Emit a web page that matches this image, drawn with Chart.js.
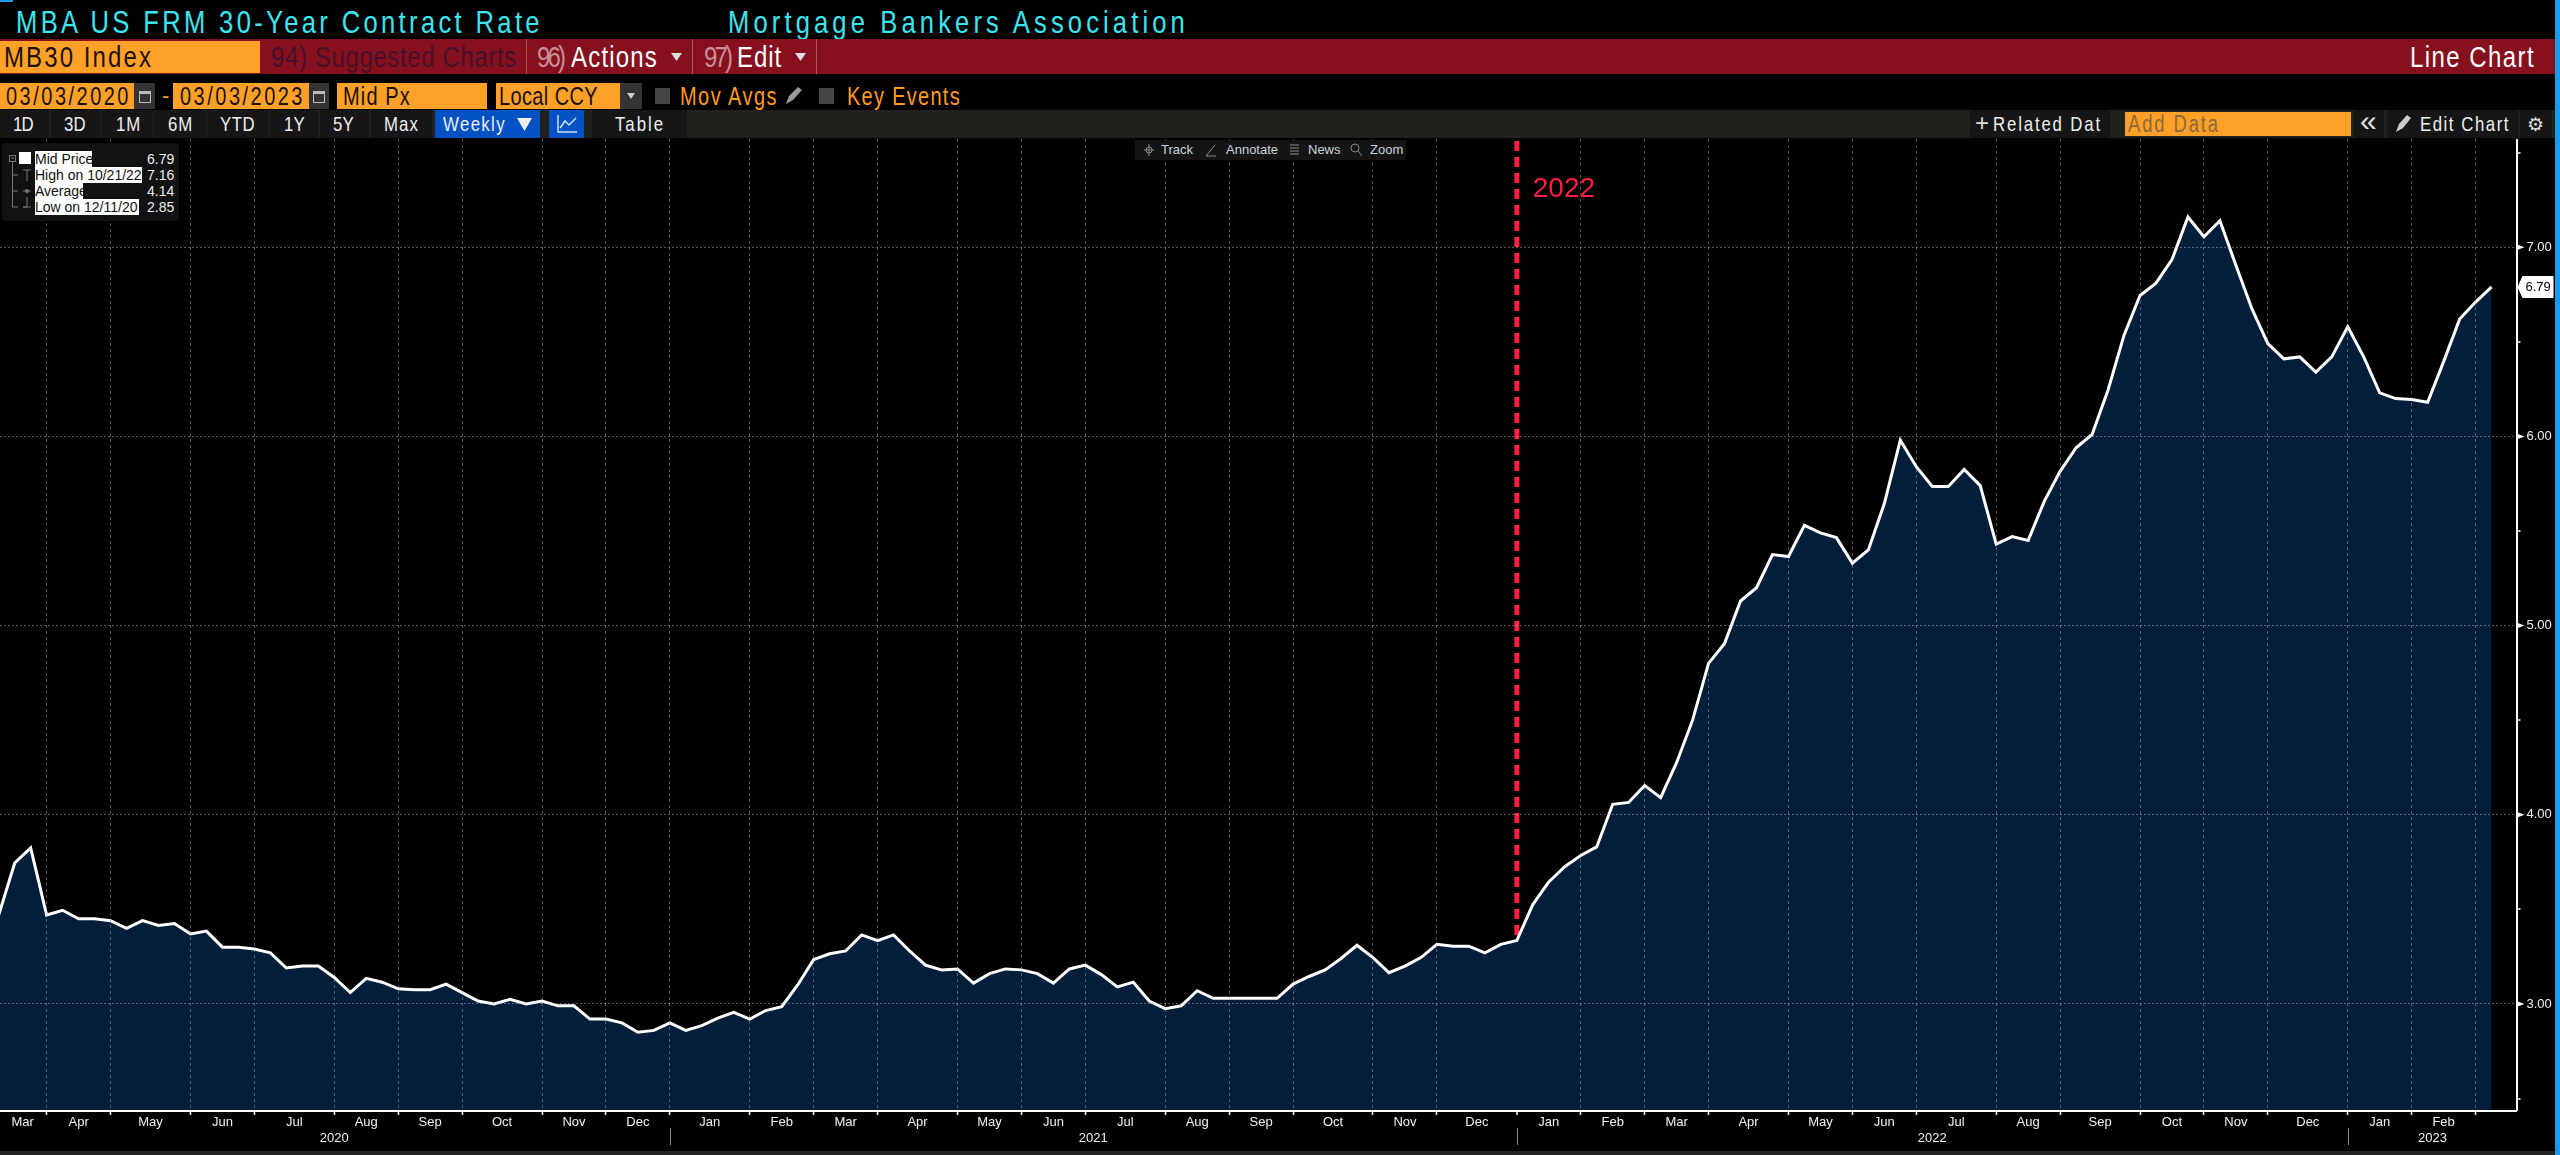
<!DOCTYPE html>
<html>
<head>
<meta charset="utf-8">
<title>MB30 Index</title>
<script src="https://cdn.jsdelivr.net/npm/chart.js@4"></script>
<style>
html, body { margin: 0; padding: 0; background: #000; }
body { width: 2560px; height: 1155px; position: relative; overflow: hidden; font-family: "Liberation Sans", Arial, sans-serif; }
.box { position: absolute; }
.t { position: absolute; white-space: nowrap; transform-origin: left center; }
.org { background: #ffa028; }
.btn { position: absolute; top: 110px; height: 28px; background: #161616; }
.chk { position: absolute; top: 88px; width: 15px; height: 16px; background: #444; }
.cal { position: absolute; top: 83px; height: 26px; background: #333; }
.w { position: absolute; top: 140px; height: 20px; background: #141414; z-index: 2; }
#wrap { position: absolute; left: 0; top: 139px; width: 2555px; height: 1012px; }
#legend { position: absolute; left: 2px; top: 143px; width: 177px; height: 78px; background: #111; border-radius: 3px; z-index: 2; }
</style>
</head>
<body>

<!-- title row -->
<div class="box" style="left:0;top:0;width:13px;height:2px;background:#1a9be8"></div>
<span class="t" data-w="527" style="left:16px;top:5px;line-height:34px;font-size:32px;color:#3ce6f0">MBA US FRM 30-Year Contract Rate</span>
<span class="t" data-w="461" style="left:728px;top:5px;line-height:34px;font-size:32px;color:#3ce6f0">Mortgage Bankers Association</span>

<!-- red bar -->
<div class="box" style="left:0;top:39px;width:2555px;height:35px;background:#87101e"></div>
<div class="box org" style="left:0;top:41px;width:260px;height:32px"></div>
<div class="box" style="left:526px;top:39px;width:1px;height:35px;background:#a8505c"></div>
<div class="box" style="left:692px;top:39px;width:1px;height:35px;background:#a8505c"></div>
<div class="box" style="left:816px;top:39px;width:1px;height:35px;background:#a8505c"></div>
<span class="t" data-w="149" style="left:4px;top:41px;line-height:32px;font-size:30px;color:#1a1208">MB30 Index</span>
<span class="t" data-w="246" style="left:271px;top:41px;line-height:32px;font-size:30px;color:#47102a">94) Suggested Charts</span>
<span class="t" data-w="26" style="left:537px;top:41px;line-height:32px;font-size:30px;color:#c98f98">96)</span>
<span class="t" data-w="87" style="left:571px;top:41px;line-height:32px;font-size:30px;color:#fff">Actions</span>
<svg class="box" style="left:671px;top:53px" width="11" height="8"><path d="M0 0 H11 L5.5 8 Z" fill="#ddd"/></svg>
<span class="t" data-w="26" style="left:704px;top:41px;line-height:32px;font-size:30px;color:#c98f98">97)</span>
<span class="t" data-w="45" style="left:737px;top:41px;line-height:32px;font-size:30px;color:#fff">Edit</span>
<svg class="box" style="left:795px;top:53px" width="11" height="8"><path d="M0 0 H11 L5.5 8 Z" fill="#ddd"/></svg>
<span class="t" data-w="125" style="left:2410px;top:41px;line-height:32px;font-size:30px;color:#fff">Line Chart</span>

<!-- date row -->
<div class="box org" style="left:0;top:83px;width:134px;height:26px"></div>
<div class="cal" style="left:134px;width:21px"></div>
<svg class="box" style="left:139px;top:90px" width="12" height="13"><rect x="0.5" y="1.5" width="11" height="11" fill="none" stroke="#bbb"/><rect x="0" y="1" width="12" height="3" fill="#bbb"/></svg>
<span class="t" style="left:162px;top:83px;line-height:26px;font-size:22px;color:#ffa028">-</span>
<div class="box org" style="left:173px;top:83px;width:136px;height:26px"></div>
<div class="cal" style="left:309px;width:20px"></div>
<svg class="box" style="left:313px;top:90px" width="12" height="13"><rect x="0.5" y="1.5" width="11" height="11" fill="none" stroke="#bbb"/><rect x="0" y="1" width="12" height="3" fill="#bbb"/></svg>
<div class="box org" style="left:337px;top:83px;width:150px;height:26px"></div>
<div class="box org" style="left:496px;top:83px;width:124px;height:26px"></div>
<div class="cal" style="left:620px;width:22px"></div>
<svg class="box" style="left:627px;top:93px" width="8" height="6"><path d="M0 0 H8 L4 6 Z" fill="#ccc"/></svg>
<span class="t" data-w="125" style="left:6px;top:83px;line-height:26px;font-size:25px;color:#1a1208">03/03/2020</span>
<span class="t" data-w="125" style="left:180px;top:83px;line-height:26px;font-size:25px;color:#1a1208">03/03/2023</span>
<span class="t" data-w="68" style="left:343px;top:83px;line-height:26px;font-size:25px;color:#1a1208">Mid Px</span>
<span class="t" data-w="99" style="left:499px;top:83px;line-height:26px;font-size:25px;color:#1a1208">Local CCY</span>
<div class="chk" style="left:655px"></div>
<span class="t" data-w="98" style="left:680px;top:83px;line-height:26px;font-size:25px;color:#ff9a1e">Mov Avgs</span>
<svg class="box" style="left:784px;top:86px" width="20" height="20"><path d="M2 18 L5 10 L14 1 L18 4 L9 14 Z" fill="#999"/></svg>
<div class="chk" style="left:819px"></div>
<span class="t" data-w="114" style="left:847px;top:83px;line-height:26px;font-size:25px;color:#ff9a1e">Key Events</span>

<!-- toolbar -->
<div class="box" style="left:0;top:110px;width:2555px;height:28px;background:#23211d"></div>
<div class="btn" style="left:0;width:49px"></div>
<div class="btn" style="left:51px;width:49px"></div>
<div class="btn" style="left:101px;width:52px"></div>
<div class="btn" style="left:154px;width:52px"></div>
<div class="btn" style="left:207px;width:62px"></div>
<div class="btn" style="left:270px;width:48px"></div>
<div class="btn" style="left:320px;width:49px"></div>
<div class="btn" style="left:371px;width:61px"></div>
<div class="btn" style="left:435px;width:105px;background:#0352c4"></div>
<div class="btn" style="left:549px;width:35px;background:#0352c4"></div>
<div class="btn" style="left:592px;width:95px"></div>
<span class="t" data-w="20" style="left:13px;top:110px;line-height:28px;font-size:21px;color:#eee">1D</span>
<span class="t" data-w="22" style="left:64px;top:110px;line-height:28px;font-size:21px;color:#eee">3D</span>
<span class="t" data-w="25" style="left:116px;top:110px;line-height:28px;font-size:21px;color:#eee">1M</span>
<span class="t" data-w="25" style="left:168px;top:110px;line-height:28px;font-size:21px;color:#eee">6M</span>
<span class="t" data-w="35" style="left:220px;top:110px;line-height:28px;font-size:21px;color:#eee">YTD</span>
<span class="t" data-w="21" style="left:284px;top:110px;line-height:28px;font-size:21px;color:#eee">1Y</span>
<span class="t" data-w="21" style="left:333px;top:110px;line-height:28px;font-size:21px;color:#eee">5Y</span>
<span class="t" data-w="35" style="left:384px;top:110px;line-height:28px;font-size:21px;color:#eee">Max</span>
<span class="t" data-w="63" style="left:443px;top:110px;line-height:28px;font-size:21px;color:#eee">Weekly</span>
<svg class="box" style="left:517px;top:118px" width="15" height="13"><path d="M0 0 H15 L7.5 13 Z" fill="#eee"/></svg>
<svg class="box" style="left:556px;top:114px" width="22" height="20"><path d="M2 1 V18 H21" fill="none" stroke="#cfe0ff" stroke-width="1.5"/><path d="M4 14 L9 7 L13 11 L20 4" fill="none" stroke="#cfe0ff" stroke-width="1.5"/></svg>
<span class="t" data-w="50" style="left:615px;top:110px;line-height:28px;font-size:21px;color:#eee">Table</span>

<div class="btn" style="left:1970px;width:140px"></div>
<span class="t" style="left:1975px;top:109px;line-height:28px;font-size:24px;color:#ddd">+</span>
<span class="t" data-w="109" style="left:1993px;top:110px;line-height:28px;font-size:21px;color:#eee">Related Dat</span>
<div class="box org" style="left:2125px;top:112px;width:226px;height:24px"></div>
<span class="t" data-w="92" style="left:2128px;top:112px;line-height:24px;font-size:23px;color:#8a6a3a">Add Data</span>
<div class="btn" style="left:2354px;width:30px"></div>
<span class="t" style="left:2360px;top:108px;line-height:26px;font-size:30px;color:#ddd">«</span>
<div class="btn" style="left:2387px;width:131px"></div>
<svg class="box" style="left:2394px;top:114px" width="20" height="20"><path d="M2 18 L5 10 L13 1 L17 4 L9 14 Z" fill="#ccc"/></svg>
<span class="t" data-w="90" style="left:2420px;top:110px;line-height:28px;font-size:21px;color:#eee">Edit Chart</span>
<div class="btn" style="left:2520px;width:32px"></div>
<span class="t" style="left:2527px;top:110px;line-height:28px;font-size:19px;color:#ddd;font-family:'DejaVu Sans'">⚙</span>

<!-- blue edge and bottom strip -->
<div class="box" style="left:2555px;top:0;width:5px;height:1155px;background:#1a9be8"></div>
<div class="box" style="left:0;top:1151px;width:2555px;height:4px;background:#222"></div>

<!-- chart tools -->
<div class="w" style="left:1135px;width:271px"></div>
<svg class="box" style="left:1143px;top:143px;z-index:3" width="12" height="14"><path d="M6 1 V13 M1 7 H11" stroke="#888"/><circle cx="6" cy="7" r="3" fill="none" stroke="#888"/></svg>
<span class="t" style="left:1161px;top:140px;line-height:20px;font-size:13px;color:#c8d4da;z-index:3">Track</span>
<svg class="box" style="left:1205px;top:143px;z-index:3" width="12" height="14"><path d="M1 13 L10 2 M1 13 H11" stroke="#888"/></svg>
<span class="t" style="left:1226px;top:140px;line-height:20px;font-size:13px;color:#c8d4da;z-index:3">Annotate</span>
<svg class="box" style="left:1289px;top:143px;z-index:3" width="12" height="14"><path d="M1 2 H10 M1 5 H10 M1 8 H10 M1 11 H10" stroke="#888"/></svg>
<span class="t" style="left:1308px;top:140px;line-height:20px;font-size:13px;color:#c8d4da;z-index:3">News</span>
<svg class="box" style="left:1350px;top:143px;z-index:3" width="12" height="14"><circle cx="5" cy="5" r="4" fill="none" stroke="#888"/><path d="M8 8 L12 13" stroke="#888"/></svg>
<span class="t" style="left:1370px;top:140px;line-height:20px;font-size:13px;color:#c8d4da;z-index:3">Zoom</span>

<!-- stats legend -->
<div id="legend">
  <svg class="box" style="left:0;top:0" width="34" height="78"><rect x="7.5" y="12.5" width="6" height="6" fill="none" stroke="#777"/><path d="M9 15 H12 M10.5 19 V64 H16 M10.5 32 H16 M10.5 48 H16" stroke="#777" fill="none"/><path d="M21 27 H29 M25 27 V38 M21 48 H29 M25 64 H21 H29 M25 54 V64" stroke="#777" fill="none"/><circle cx="25" cy="48" r="2" fill="#777"/></svg>
  <div class="box" style="left:17px;top:9px;width:12px;height:12px;background:#fff"></div>
  <span class="t" style="left:33px;top:8px;height:16px;width:57px;background:#fff;color:#111;font-size:14px;line-height:16px">Mid Price</span>
  <span class="t" style="left:33px;top:24px;height:16px;width:107px;background:#fff;color:#111;font-size:14px;line-height:16px">High on 10/21/22</span>
  <span class="t" style="left:33px;top:40px;height:16px;width:48px;background:#fff;color:#111;font-size:14px;line-height:16px">Average</span>
  <span class="t" style="left:33px;top:56px;height:16px;width:104px;background:#fff;color:#111;font-size:14px;line-height:16px">Low on 12/11/20</span>
  <span class="t" style="left:145px;top:8px;color:#eee;font-size:14px;line-height:16px">6.79</span>
  <span class="t" style="left:145px;top:24px;color:#eee;font-size:14px;line-height:16px">7.16</span>
  <span class="t" style="left:145px;top:40px;color:#eee;font-size:14px;line-height:16px">4.14</span>
  <span class="t" style="left:145px;top:56px;color:#eee;font-size:14px;line-height:16px">2.85</span>
</div>

<div id="wrap"><canvas id="rateChart"></canvas></div>

<script>
// weekly mid price, MB30 Index, 03/06/2020 to 03/03/2023
const rate2020 = [3.47, 3.745, 3.825, 3.47, 3.495, 3.45, 3.45, 3.44, 3.40, 3.44, 3.415, 3.425, 3.37, 3.385, 3.30, 3.30,
    3.29, 3.27, 3.19, 3.20, 3.20, 3.14, 3.06, 3.135, 3.115, 3.08, 3.075, 3.075, 3.105, 3.06, 3.015, 3.00,
    3.025, 3.00, 3.015, 2.99, 2.99, 2.92, 2.92, 2.90, 2.85, 2.86, 2.90];
const rate2021 = [2.86, 2.885, 2.925, 2.955, 2.92, 2.965, 2.985, 3.10, 3.235, 3.265, 3.28, 3.365, 3.335, 3.365, 3.28, 3.205,
    3.18, 3.185, 3.11, 3.16, 3.185, 3.18, 3.16, 3.11, 3.185, 3.205, 3.155, 3.09, 3.115, 3.015, 2.975, 2.99,
    3.07, 3.03, 3.03, 3.03, 3.03, 3.03, 3.105, 3.145, 3.18, 3.24, 3.31, 3.245, 3.165, 3.20, 3.245, 3.315,
    3.305, 3.305, 3.27, 3.315, 3.335];
const rate2022 = [3.525, 3.645, 3.725, 3.785, 3.83, 4.055, 4.065, 4.155, 4.09, 4.275, 4.50, 4.80, 4.905, 5.13, 5.20, 5.375,
    5.365, 5.53, 5.49, 5.465, 5.33, 5.40, 5.645, 5.98, 5.84, 5.735, 5.735, 5.825, 5.74, 5.43, 5.47, 5.45,
    5.655, 5.815, 5.94, 6.01, 6.245, 6.535, 6.745, 6.81, 6.935, 7.16, 7.055, 7.14, 6.905, 6.675, 6.49, 6.41,
    6.42, 6.34, 6.42, 6.58];
const rate2023 = [6.42, 6.23, 6.20, 6.195, 6.18, 6.395, 6.62, 6.71, 6.79];
const midPrice = [...rate2020, ...rate2021, ...rate2022, ...rate2023];

// week number of each month end, first week is 0
const monthEdges = [3, 7, 12, 16, 21, 25, 29, 34, 38, 42, 47, 51, 55, 60, 64, 68, 73, 77, 81, 86, 90, 95, 99, 103, 107,
    112, 116, 120, 125, 129, 134, 138, 142, 147, 151, 155];
const monthNames = ['Mar', 'Apr', 'May', 'Jun', 'Jul', 'Aug', 'Sep', 'Oct', 'Nov', 'Dec', 'Jan', 'Feb',
    'Mar', 'Apr', 'May', 'Jun', 'Jul', 'Aug', 'Sep', 'Oct', 'Nov', 'Dec', 'Jan', 'Feb',
    'Mar', 'Apr', 'May', 'Jun', 'Jul', 'Aug', 'Sep', 'Oct', 'Nov', 'Dec', 'Jan', 'Feb'];
const yearNames = ['2020', '2021', '2022', '2023'];
const yearCenters = [21, 68.5, 121, 152.3];
const yearEdges = [42, 95, 147];
const yTicks = [2.5, 3, 3.5, 4, 4.5, 5, 5.5, 6, 6.5, 7, 7.5];
const eventWeek = 95;
const eventLabel = '2022';

const xMin = 0.081, xMax = 157.56;
const yMin = 2.434, yMax = 7.572;
const axisFamily = '"Liberation Sans", Arial, sans-serif';
const labelFont = { family: axisFamily, size: 13 };

function noPadding(scale) {
    scale.paddingTop = scale.paddingBottom = scale.paddingLeft = scale.paddingRight = 0;
}

const axisMarks = {
    id: 'axisMarks',
    afterDraw(chart) {
        const ctx = chart.ctx, x = chart.scales.x, y = chart.scales.y;
        const right = chart.chartArea.right, bottom = chart.chartArea.bottom;
        ctx.save();
        // little arrows at the whole numbers
        ctx.fillStyle = '#fff';
        yTicks.filter(v => Number.isInteger(v)).forEach(v => {
            const py = y.getPixelForValue(v);
            ctx.beginPath();
            ctx.moveTo(right, py - 3);
            ctx.lineTo(right + 8, py);
            ctx.lineTo(right, py + 3);
            ctx.fill();
        });
        // last price tag
        const last = midPrice[midPrice.length - 1];
        const ly = y.getPixelForValue(last);
        ctx.beginPath();
        ctx.moveTo(right + 1, ly);
        ctx.lineTo(right + 6, ly - 11);
        ctx.lineTo(right + 37, ly - 11);
        ctx.lineTo(right + 37, ly + 11);
        ctx.lineTo(right + 6, ly + 11);
        ctx.fill();
        ctx.fillStyle = '#000';
        ctx.font = '13px ' + axisFamily;
        ctx.textBaseline = 'middle';
        ctx.fillText(last.toFixed(2), right + 9, ly);
        // year separators under the axis
        ctx.strokeStyle = '#888';
        ctx.lineWidth = 1;
        yearEdges.forEach(w => {
            const px = Math.round(x.getPixelForValue(w)) + 0.5;
            ctx.beginPath();
            ctx.moveTo(px, bottom + 17);
            ctx.lineTo(px, bottom + 34);
            ctx.stroke();
        });
        // event label
        ctx.fillStyle = '#ff1f45';
        ctx.font = '28px ' + axisFamily;
        ctx.fillText(eventLabel, x.getPixelForValue(eventWeek) + 16, 50);
        ctx.restore();
    }
};

new Chart(document.getElementById('rateChart'), {
    type: 'line',
    data: {
        datasets: [{
            label: 'Mid Price',
            data: midPrice.map((v, i) => ({ x: i, y: v })),
            borderColor: '#ffffff',
            borderWidth: 3,
            backgroundColor: '#031e3a',
            fill: 'start',
            pointRadius: 0,
            tension: 0
        }, {
            label: eventLabel,
            data: [{ x: eventWeek, y: yMin }, { x: eventWeek, y: yMax }],
            borderColor: '#ff1f45',
            borderWidth: 5,
            borderDash: [10, 6],
            pointRadius: 0,
            fill: false
        }]
    },
    options: {
        responsive: true,
        maintainAspectRatio: false,
        devicePixelRatio: 1,
        animation: false,
        layout: { padding: 0 },
        plugins: { legend: { display: false }, tooltip: { enabled: false } },
        scales: {
            x: {
                type: 'linear',
                min: xMin,
                max: xMax,
                afterBuildTicks(scale) {
                    // month edges carry the grid, the points between them carry the names
                    const ticks = monthEdges.map(w => ({ value: w }));
                    monthEdges.forEach((w, i) => {
                        const from = i === 0 ? 0 : monthEdges[i - 1];
                        ticks.push({ value: (from + w) / 2, name: monthNames[i] });
                    });
                    scale.ticks = ticks.sort((a, b) => a.value - b.value);
                },
                afterFit(scale) { scale.height = 20; noPadding(scale); },
                ticks: {
                    autoSkip: false,
                    maxRotation: 0,
                    padding: 0,
                    color: '#eef2f4',
                    font: labelFont,
                    callback: (v, i, ticks) => ticks[i].name || ''
                },
                grid: {
                    z: 1,
                    color: 'rgba(190,200,210,0.4)',
                    lineWidth: c => c.tick && monthEdges.includes(c.tick.value) && c.tick.value !== eventWeek ? 1 : 0,
                    tickColor: c => c.tick && monthEdges.includes(c.tick.value) ? '#ffffff' : 'transparent',
                    tickWidth: 1.5,
                    tickLength: 4,
                    tickBorderDash: []
                },
                border: { z: 2, color: '#ffffff', width: 2, dash: [3, 3] }
            },
            xYear: {
                type: 'linear',
                position: 'bottom',
                weight: 1,
                min: xMin,
                max: xMax,
                afterBuildTicks(scale) {
                    scale.ticks = yearCenters.map((w, i) => ({ value: w, name: yearNames[i] }));
                },
                afterFit(scale) { scale.height = 20; noPadding(scale); },
                ticks: {
                    autoSkip: false,
                    maxRotation: 0,
                    padding: 0,
                    color: '#eef2f4',
                    font: labelFont,
                    callback: (v, i, ticks) => ticks[i].name
                },
                grid: { display: false, drawTicks: false },
                border: { display: false }
            },
            y: {
                position: 'right',
                min: yMin,
                max: yMax,
                afterBuildTicks(scale) {
                    scale.ticks = yTicks.map(v => ({ value: v }));
                },
                afterFit(scale) { scale.width = 38.5; noPadding(scale); },
                ticks: {
                    padding: 6,
                    color: '#eef2f4',
                    font: labelFont,
                    callback: v => Number.isInteger(v) ? v.toFixed(2) : ''
                },
                grid: {
                    z: 1,
                    color: 'rgba(190,200,210,0.45)',
                    lineWidth: c => c.tick && Number.isInteger(c.tick.value) ? 1 : 0,
                    tickColor: c => c.tick && Number.isInteger(c.tick.value) ? 'transparent' : '#ffffff',
                    tickWidth: 1.5,
                    tickLength: 4,
                    tickBorderDash: []
                },
                border: { z: 2, color: '#ffffff', width: 2, dash: [2, 2] }
            }
        }
    },
    plugins: [axisMarks]
});

// no condensed face is installed, so squeeze the header text and space it to the terminal's width
const squeeze = 0.8;
document.querySelectorAll('[data-w]').forEach(el => {
    const natural = el.getBoundingClientRect().width;
    const gap = (el.dataset.w / squeeze - natural) / el.textContent.length;
    el.style.letterSpacing = gap.toFixed(2) + 'px';
    el.style.transform = 'scaleX(' + squeeze + ')';
});
</script>
</body>
</html>
